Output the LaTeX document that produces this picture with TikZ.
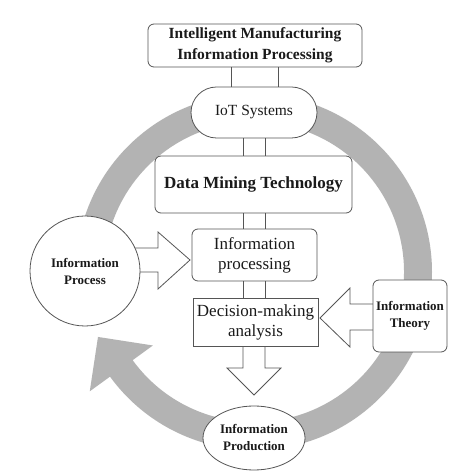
\documentclass[tikz,border=0pt]{standalone}
\usepackage{fontspec}
\setmainfont{Liberation Serif}
\usetikzlibrary{shapes.geometric,shapes.misc,calc}
\definecolor{ln}{HTML}{555555}
\definecolor{ringgray}{HTML}{B3B3B3}
\definecolor{txt}{HTML}{1A1A1A}
\begin{document}
\begin{tikzpicture}[x=1pt,y=1pt,
  base/.style={draw=ln, line width=0.8pt, fill=white, align=center, inner sep=0pt, text=txt},
  rbox/.style={base, rectangle, rounded corners=6pt},
  sbox/.style={base, rectangle},
  pill/.style={base, rounded rectangle},
  blk/.style={draw=ln, line width=0.8pt, fill=white, line join=miter},
  pipe/.style={draw=ln, line width=0.8pt},
  fbig/.style={font=\fontsize{17}{20}\selectfont},
  fbigb/.style={font=\fontsize{17}{20}\selectfont\bfseries},
  fmid/.style={font=\fontsize{15.5}{21}\selectfont},
  fmidb/.style={font=\fontsize{15.5}{21}\selectfont\bfseries},
  fsmall/.style={font=\fontsize{13}{17}\selectfont\bfseries}
]
\useasboundingbox (0,0) rectangle (474,474);
\fill[white] (0,0) rectangle (474,474);

% grey circular arrow
\begin{scope}[shift={(254,202)}]
  \fill[ringgray] (180:178) arc[start angle=180, end angle=-144, radius=178]
    -- (216:203) -- (202.6:169) -- (216:125) -- (216:150)
    arc[start angle=-144, end angle=180, radius=150] -- cycle;
\end{scope}

% block arrows
\draw[blk] (128,226) -- (158,226) -- (158,242) -- (190,214) -- (158,185) -- (158,202) -- (128,202);
\draw[blk] (380,170) -- (350,170) -- (350,186) -- (320,156) -- (350,127) -- (350,144) -- (380,144);
\draw[blk] (243,128) -- (243,106) -- (227,106) -- (254,79) -- (281,106) -- (265,106) -- (265,128);

% nodes
\node[rbox, fmidb, minimum width=214, minimum height=43] (top) at (255,428.5)
  {Intelligent Manufacturing\\Information Processing};
\node[pill, fmid, minimum width=126, minimum height=51] (iot) at (254,361.5) {IoT Systems};
\node[rbox, fbigb, minimum width=197, minimum height=57] (dm) at (253.5,289.5)
  {Data Mining Technology};
\node[rbox, fbig, minimum width=125, minimum height=52] (ip) at (254.5,219)
  {Information\\processing};
\node[sbox, fbig, minimum width=125, minimum height=48] (dec) at (255.5,152)
  {Decision-making\\analysis};
\node[base, circle, fsmall, minimum size=110] (proc) at (85,203) {Information\\Process};
\node[rbox, fsmall, minimum width=74, minimum height=72] (theo) at (410,158)
  {Information\\Theory};
\node[base, ellipse, fsmall, minimum width=102, minimum height=64] (prod) at (254,36)
  {Information\\Production};

% pipes between boxes
\draw[pipe] ([xshift=-24pt]top.south) -- ([xshift=-24pt]top.south |- iot.north);
\draw[pipe] ([xshift=23pt]top.south) -- ([xshift=23pt]top.south |- iot.north);
\draw[pipe] ([xshift=-11pt]iot.south) -- ([xshift=-11pt]iot.south |- dm.north);
\draw[pipe] ([xshift=11pt]iot.south) -- ([xshift=11pt]iot.south |- dm.north);
\draw[pipe] (243,0 |- dm.south) -- (243,0 |- ip.north);
\draw[pipe] (265,0 |- dm.south) -- (265,0 |- ip.north);
\draw[pipe] (243,0 |- ip.south) -- (243,0 |- dec.north);
\draw[pipe] (265,0 |- ip.south) -- (265,0 |- dec.north);
\end{tikzpicture}
\end{document}
